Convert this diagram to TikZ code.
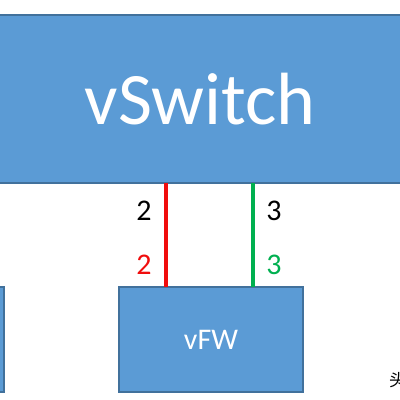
\documentclass[tikz,border=0pt]{standalone}
\usepackage{fontspec}
\setmainfont{Carlito}
\newfontfamily\cjk{Noto Sans CJK SC}
\definecolor{boxfill}{HTML}{5B9BD5}
\definecolor{boxedge}{HTML}{41719C}
\definecolor{linkred}{HTML}{F00D0D}
\definecolor{linkgreen}{HTML}{00B050}
\tikzset{
  blockbox/.style={draw=boxedge, line width=1.2pt, fill=boxfill, inner sep=0pt, text=white},
  linkline/.style={line width=4pt},
  numlabel/.style={font=\fontsize{30}{31}\selectfont, inner sep=0pt}
}
\begin{document}
\begin{tikzpicture}[x=1pt,y=-1pt]
\useasboundingbox (0,0) rectangle (400,400);
\fill[white] (0,0) rectangle (400,400);
% vSwitch
\node[blockbox, minimum width=420pt, minimum height=168pt, font=\fontsize{74}{76}\selectfont] (vs) at (200,99) {vSwitch};
% vFW
\node[blockbox, minimum width=184pt, minimum height=105pt, font=\fontsize{30}{31}\selectfont] (fw) at (211,339.5) {vFW};
% left partial box
\node[blockbox, minimum width=100pt, minimum height=105pt] (left) at (-46,339.5) {};
% links
\coordinate (r1) at (165.5,183);
\coordinate (r2) at (165.5,287);
\coordinate (g1) at (253,183);
\coordinate (g2) at (253,287);
\draw[linkline, linkred] (r1) -- (r2);
\draw[linkline, linkgreen] (g1) -- (g2);
% labels
\node[numlabel] (l2a) at (144,211) {2};
\node[numlabel, text=linkred] (l2b) at (144,265) {2};
\node[numlabel] (l3a) at (274,211) {3};
\node[numlabel, text=linkgreen] (l3b) at (274,265) {3};
% watermark fragment
\node[anchor=west, inner sep=0pt, font=\cjk\fontsize{17}{18}\selectfont] (wm) at (389,380) {头};
\end{tikzpicture}
\end{document}
